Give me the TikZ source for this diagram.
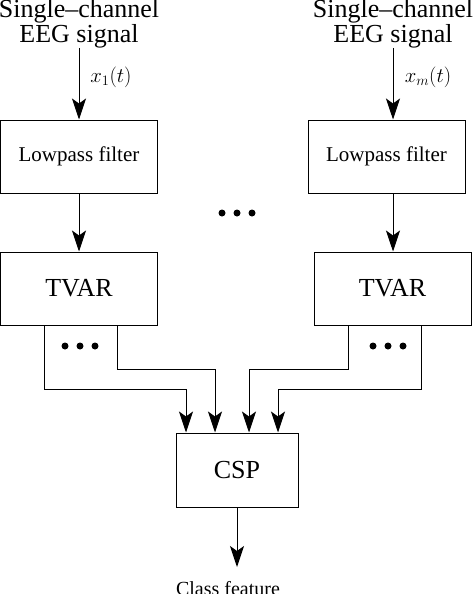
\documentclass[tikz,border=0pt]{standalone}
\usepackage{fontspec}
\setmainfont{Liberation Serif}
\usetikzlibrary{arrows.meta,calc}
\begin{document}
\begin{tikzpicture}[x=1pt,y=-1pt,
  box/.style={draw,line width=1pt,inner sep=0pt},
  lpbox/.style={box,minimum width=157pt,minimum height=73pt,font=\fontsize{21}{22}\selectfont},
  bigbox/.style={box,minimum width=157pt,minimum height=73pt,font=\fontsize{26}{28}\selectfont},
  title/.style={inner sep=0pt,align=center,font=\fontsize{26}{25}\selectfont},
  arr/.style={line width=1pt,-{Stealth[length=21pt,width=14pt,inset=5pt]}},
  lbl/.style={inner sep=0pt,font=\fontsize{22.5}{24}\selectfont},
  dot/.style={circle,fill,inner sep=0pt,minimum size=7pt}
]
\useasboundingbox (0,0) rectangle (474,594);
% titles
\node[title,anchor=south] (t1) at (79,48) {Single--channel\\EEG signal};
\node[title,anchor=south] (t2) at (393,48) {Single--channel\\EEG signal};
% boxes
\node[lpbox] (lp1) at (79,156.5) {Lowpass filter\hspace{12pt}};
\node[lpbox] (lp2) at (386.5,156.5) {Lowpass filter\hspace{8pt}};
\node[bigbox] (tv1) at (79,288.5) {TVAR};
\node[bigbox] (tv2) at (392.5,288.5) {TVAR};
\node[box,minimum width=122pt,minimum height=74pt,font=\fontsize{26}{28}\selectfont] (csp) at (237,470) {CSP};
\node[inner sep=0pt,anchor=base,font=\fontsize{20}{22}\selectfont] (cf) at (228,595) {Class feature};
% input arrows
\draw[arr] (t1.south) -- (lp1.north);
\node[lbl] (l1) at (111,77) {$x_1(t)$};
\draw[arr] (t2.south) -- (t2.south |- lp2.north);
\node[lbl] (l2) at (428,77) {$x_m(t)$};
% lowpass -> TVAR
\draw[arr] (lp1.south) -- (tv1.north);
\draw[arr] (lp2.south -| t2.south) -- (t2.south |- tv2.north);
% middle dots
\node[dot] (m1) at (222,213) {};
\node[dot] (m2) at (237,213) {};
\node[dot] (m3) at (252,213) {};
% dots under TVAR
\node[dot] (a1) at (65,346) {};
\node[dot] (a2) at (80,346) {};
\node[dot] (a3) at (95,346) {};
\node[dot] (b1) at (373,346) {};
\node[dot] (b2) at (388,346) {};
\node[dot] (b3) at (403,346) {};
% TVAR -> CSP
\coordinate (o1) at (tv1.south -| 44,0);
\coordinate (o2) at (tv1.south -| 117,0);
\coordinate (o3) at (tv2.south -| 348,0);
\coordinate (o4) at (tv2.south -| 421,0);
\coordinate (i1) at (csp.north -| 186,0);
\coordinate (i2) at (csp.north -| 215,0);
\coordinate (i3) at (csp.north -| 249,0);
\coordinate (i4) at (csp.north -| 278,0);
\draw[arr] (o1) |- (186,389) -- (i1);
\draw[arr] (o2) |- (215,369) -- (i2);
\draw[arr] (o3) |- (249,369) -- (i3);
\draw[arr] (o4) |- (278,389) -- (i4);
% CSP -> class feature
\draw[arr] (csp.south) -- (237,567);
\end{tikzpicture}
\end{document}
